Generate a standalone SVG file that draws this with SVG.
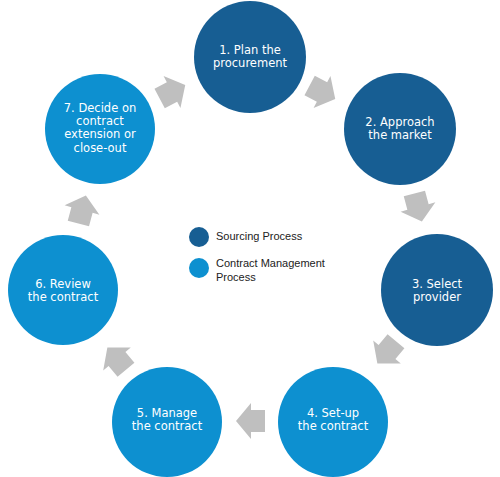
<svg xmlns="http://www.w3.org/2000/svg" width="500" height="477" viewBox="0 0 500 477">
<defs>
<style>
.dark{fill:#175E93}
.light{fill:#0D90D0}
.lbl{fill:#fff;font-family:"DejaVu Sans",Verdana,sans-serif;font-size:11.5px;text-anchor:middle}
.leg{fill:#222;font-family:"Liberation Sans",Arial,sans-serif;font-size:11px}
.arr{fill:#BFBFBF}
</style>
<path id="ar" d="M-14,-11 L0,-11 L0,-18 L15,0 L0,18 L0,11 L-14,11 Z"/>
</defs>
<rect width="500" height="477" fill="#fff"/>
<g id="connectors" class="arr">
<use href="#ar" transform="translate(322,92) rotate(28)"/>
<use href="#ar" transform="translate(418,207) rotate(75)"/>
<use href="#ar" transform="translate(387,352) rotate(130)"/>
<use href="#ar" transform="translate(251,421) rotate(180)"/>
<use href="#ar" transform="translate(117,359) rotate(230)"/>
<use href="#ar" transform="translate(82,210) rotate(-75)"/>
<use href="#ar" transform="translate(172,92) rotate(-28)"/>
</g>
<g id="n1"><circle class="dark" cx="250" cy="57" r="56"/><text class="lbl" x="250" y="54">1. Plan the</text><text class="lbl" x="250" y="67">procurement</text></g>
<g id="n2"><circle class="dark" cx="400" cy="129" r="56"/><text class="lbl" x="400" y="126">2. Approach</text><text class="lbl" x="400" y="139">the market</text></g>
<g id="n3"><circle class="dark" cx="437" cy="290" r="56"/><text class="lbl" x="437" y="288">3. Select</text><text class="lbl" x="437" y="301">provider</text></g>
<g id="n4"><circle class="light" cx="333" cy="422" r="55"/><text class="lbl" x="333" y="417">4. Set-up</text><text class="lbl" x="333" y="430">the contract</text></g>
<g id="n5"><circle class="light" cx="167" cy="422" r="55"/><text class="lbl" x="167" y="417">5. Manage</text><text class="lbl" x="167" y="430">the contract</text></g>
<g id="n6"><circle class="light" cx="63" cy="290" r="55"/><text class="lbl" x="63" y="288">6. Review</text><text class="lbl" x="63" y="301">the contract</text></g>
<g id="n7"><circle class="light" cx="100" cy="129" r="55"/><text class="lbl" x="100" y="112">7. Decide on</text><text class="lbl" x="100" y="125">contract</text><text class="lbl" x="100" y="138">extension or</text><text class="lbl" x="100" y="152">close-out</text></g>
<g id="legend">
<circle class="dark" cx="199" cy="237" r="10"/>
<text class="leg" x="216" y="240">Sourcing Process</text>
<circle class="light" cx="199" cy="268" r="10"/>
<text class="leg" x="216" y="267">Contract Management</text>
<text class="leg" x="216" y="281">Process</text>
</g>
</svg>
